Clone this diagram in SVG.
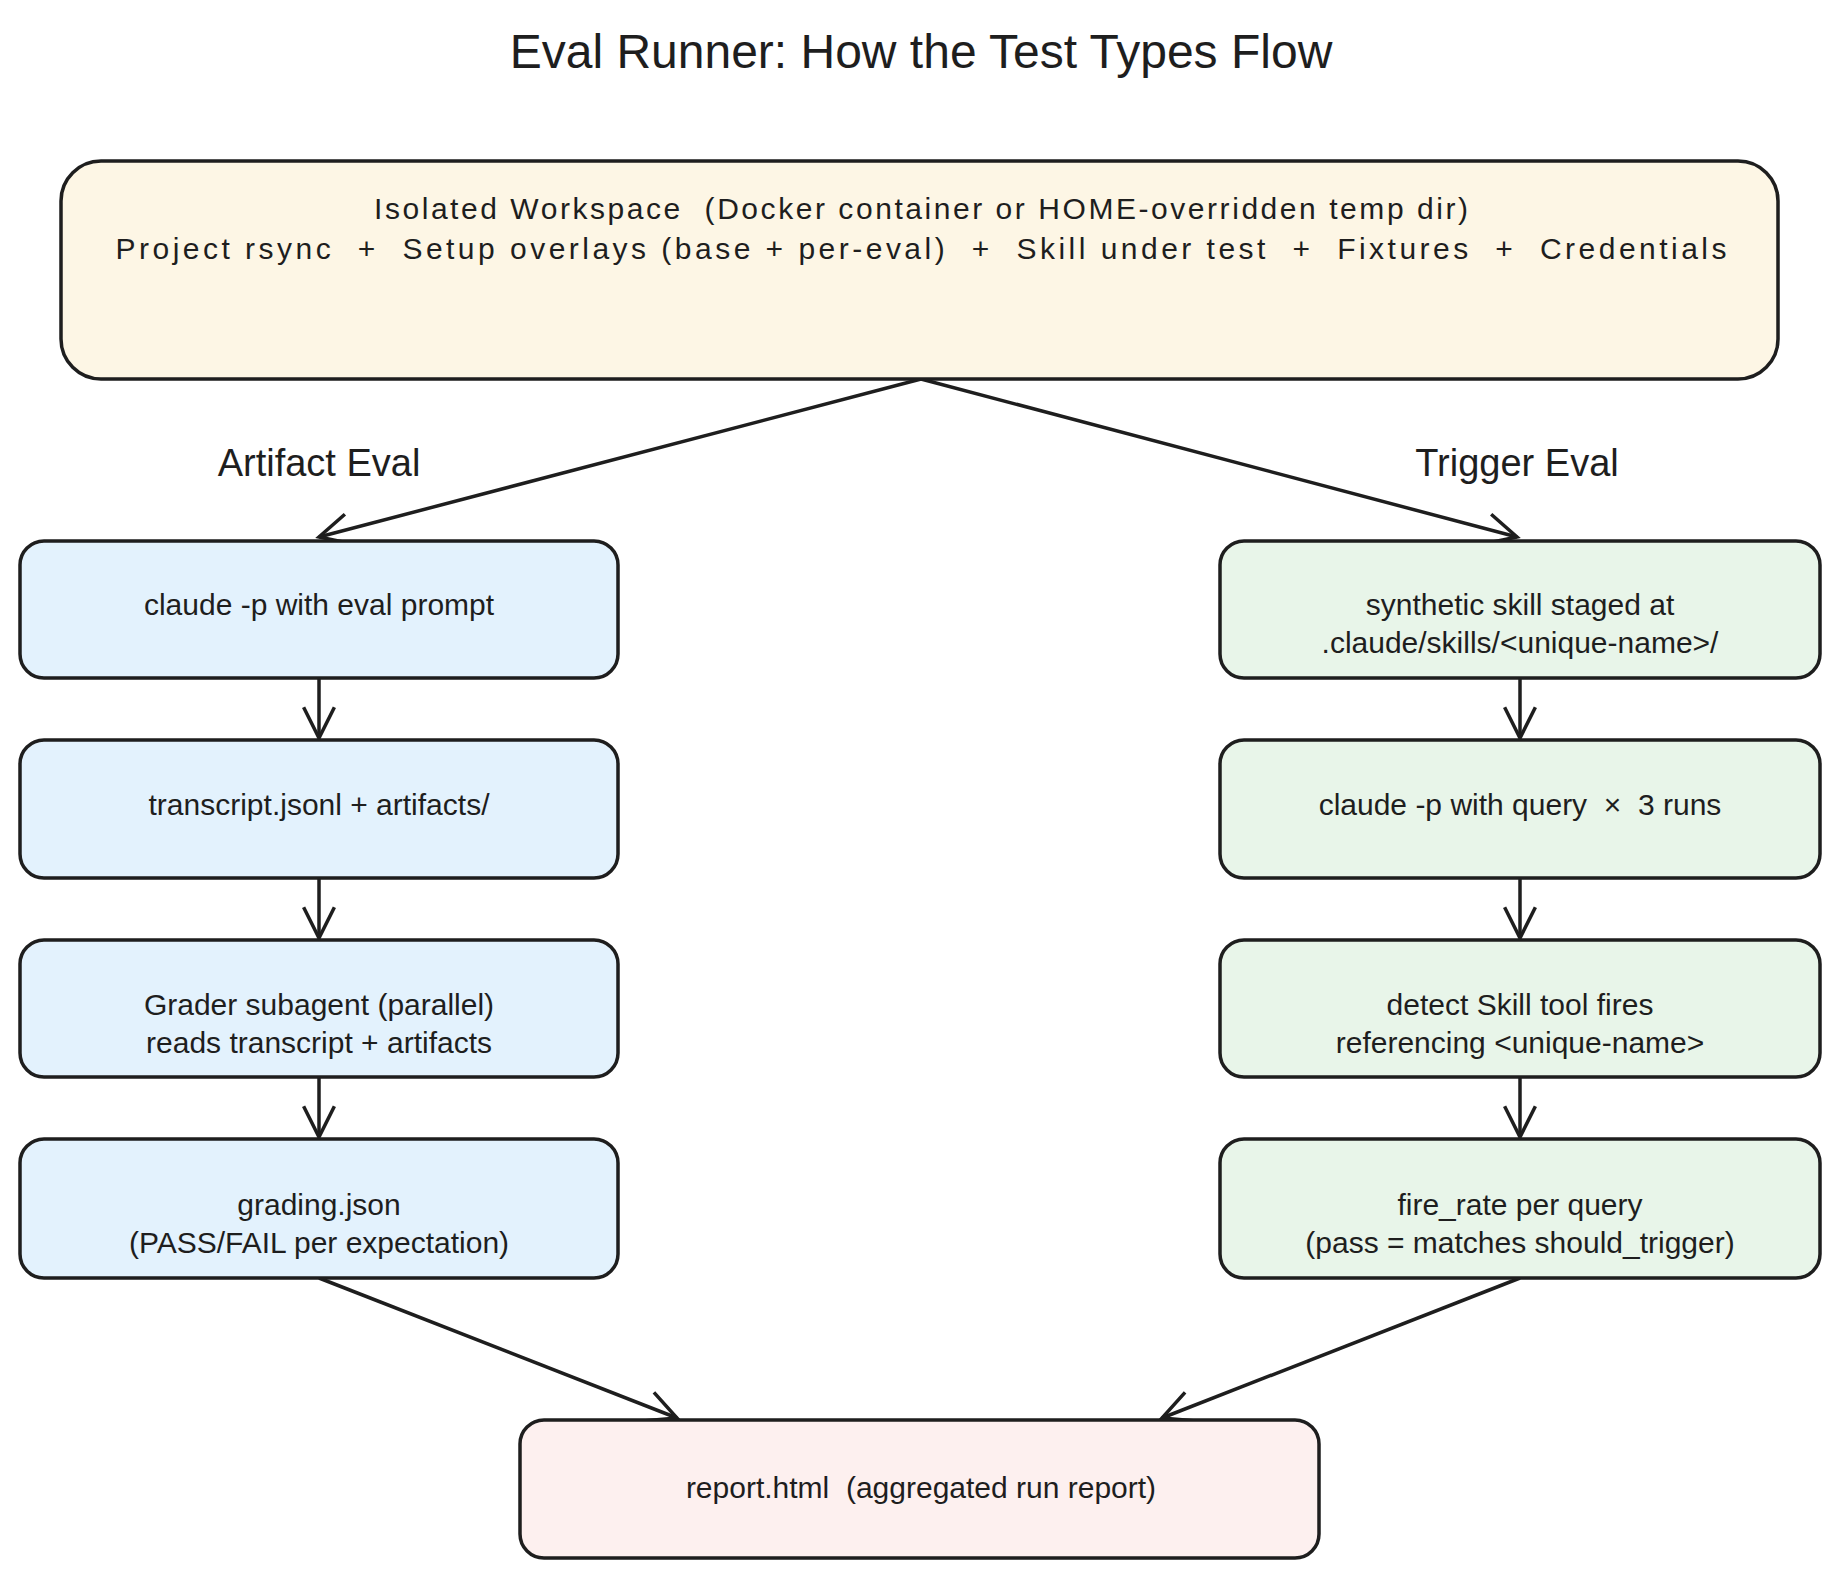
<svg xmlns="http://www.w3.org/2000/svg" width="1840" height="1580" viewBox="0 0 1840 1580">
<defs>
<style>
.box{stroke:#1e1e1e;stroke-width:3.5}
.t{font-family:"Liberation Sans",Arial,sans-serif;font-size:30px;fill:#1e1e1e;text-anchor:middle;white-space:pre}
.lbl{font-family:"Liberation Sans",Arial,sans-serif;font-size:38px;fill:#1e1e1e;text-anchor:middle}
.c{stroke:#1e1e1e;stroke-width:3.5;fill:none}
</style>
<marker id="ah2" viewBox="0 0 20 20" refX="18" refY="10" markerWidth="44" markerHeight="44" markerUnits="userSpaceOnUse" orient="auto"><path d="M4,3 L18,10 L4,17" fill="none" stroke="#1e1e1e" stroke-width="1.6"/></marker>
</defs>
<rect width="1840" height="1580" fill="#ffffff"/>
<text x="921" y="68" style="font-family:'Liberation Sans',Arial,sans-serif;font-size:48px;fill:#1e1e1e;text-anchor:middle">Eval Runner: How the Test Types Flow</text>
<g id="connectors">
<path d="M921,379 L319,537" class="c" marker-end="url(#ah2)"/>
<path d="M921,379 L1517,537" class="c" marker-end="url(#ah2)"/>
<path d="M319,678 L319,738" class="c" marker-end="url(#ah2)"/>
<path d="M319,878 L319,938" class="c" marker-end="url(#ah2)"/>
<path d="M319,1077 L319,1137" class="c" marker-end="url(#ah2)"/>
<path d="M1520,678 L1520,738" class="c" marker-end="url(#ah2)"/>
<path d="M1520,878 L1520,938" class="c" marker-end="url(#ah2)"/>
<path d="M1520,1077 L1520,1137" class="c" marker-end="url(#ah2)"/>
<path d="M319,1278 L677,1418" class="c" marker-end="url(#ah2)"/>
<path d="M1520,1278 L1162,1418" class="c" marker-end="url(#ah2)"/>
</g>
<text x="319" y="476" class="lbl">Artifact Eval</text>
<text x="1517" y="476" class="lbl">Trigger Eval</text>
<g id="workspace"><rect x="61" y="161" width="1717" height="218" rx="40" fill="#fdf6e5" class="box"/>
<text x="921" y="219" class="t" textLength="1094" lengthAdjust="spacing">Isolated Workspace  (Docker container or HOME-overridden temp dir)</text>
<text x="921" y="259" class="t" textLength="1611" lengthAdjust="spacing">Project rsync  +  Setup overlays (base + per-eval)  +  Skill under test  +  Fixtures  +  Credentials</text></g>
<g id="a1"><rect x="20" y="541" width="598" height="137" rx="24" fill="#e3f2fd" class="box"/><text x="319" y="615" class="t">claude -p with eval prompt</text></g>
<g id="a2"><rect x="20" y="740" width="598" height="138" rx="24" fill="#e3f2fd" class="box"/><text x="319" y="815" class="t">transcript.jsonl + artifacts/</text></g>
<g id="a3"><rect x="20" y="940" width="598" height="137" rx="24" fill="#e3f2fd" class="box"/><text x="319" y="1015" class="t">Grader subagent (parallel)</text><text x="319" y="1053" class="t">reads transcript + artifacts</text></g>
<g id="a4"><rect x="20" y="1139" width="598" height="139" rx="24" fill="#e3f2fd" class="box"/><text x="319" y="1215" class="t">grading.json</text><text x="319" y="1253" class="t">(PASS/FAIL per expectation)</text></g>
<g id="t1"><rect x="1220" y="541" width="600" height="137" rx="24" fill="#e8f5e9" class="box"/><text x="1520" y="615" class="t">synthetic skill staged at</text><text x="1520" y="653" class="t">.claude/skills/&lt;unique-name&gt;/</text></g>
<g id="t2"><rect x="1220" y="740" width="600" height="138" rx="24" fill="#e8f5e9" class="box"/><text x="1520" y="815" class="t">claude -p with query  ×  3 runs</text></g>
<g id="t3"><rect x="1220" y="940" width="600" height="137" rx="24" fill="#e8f5e9" class="box"/><text x="1520" y="1015" class="t">detect Skill tool fires</text><text x="1520" y="1053" class="t">referencing &lt;unique-name&gt;</text></g>
<g id="t4"><rect x="1220" y="1139" width="600" height="139" rx="24" fill="#e8f5e9" class="box"/><text x="1520" y="1215" class="t">fire_rate per query</text><text x="1520" y="1253" class="t">(pass = matches should_trigger)</text></g>
<g id="report"><rect x="520" y="1420" width="799" height="138" rx="24" fill="#fdf0ef" class="box"/><text x="921" y="1498" class="t">report.html  (aggregated run report)</text></g>
</svg>
